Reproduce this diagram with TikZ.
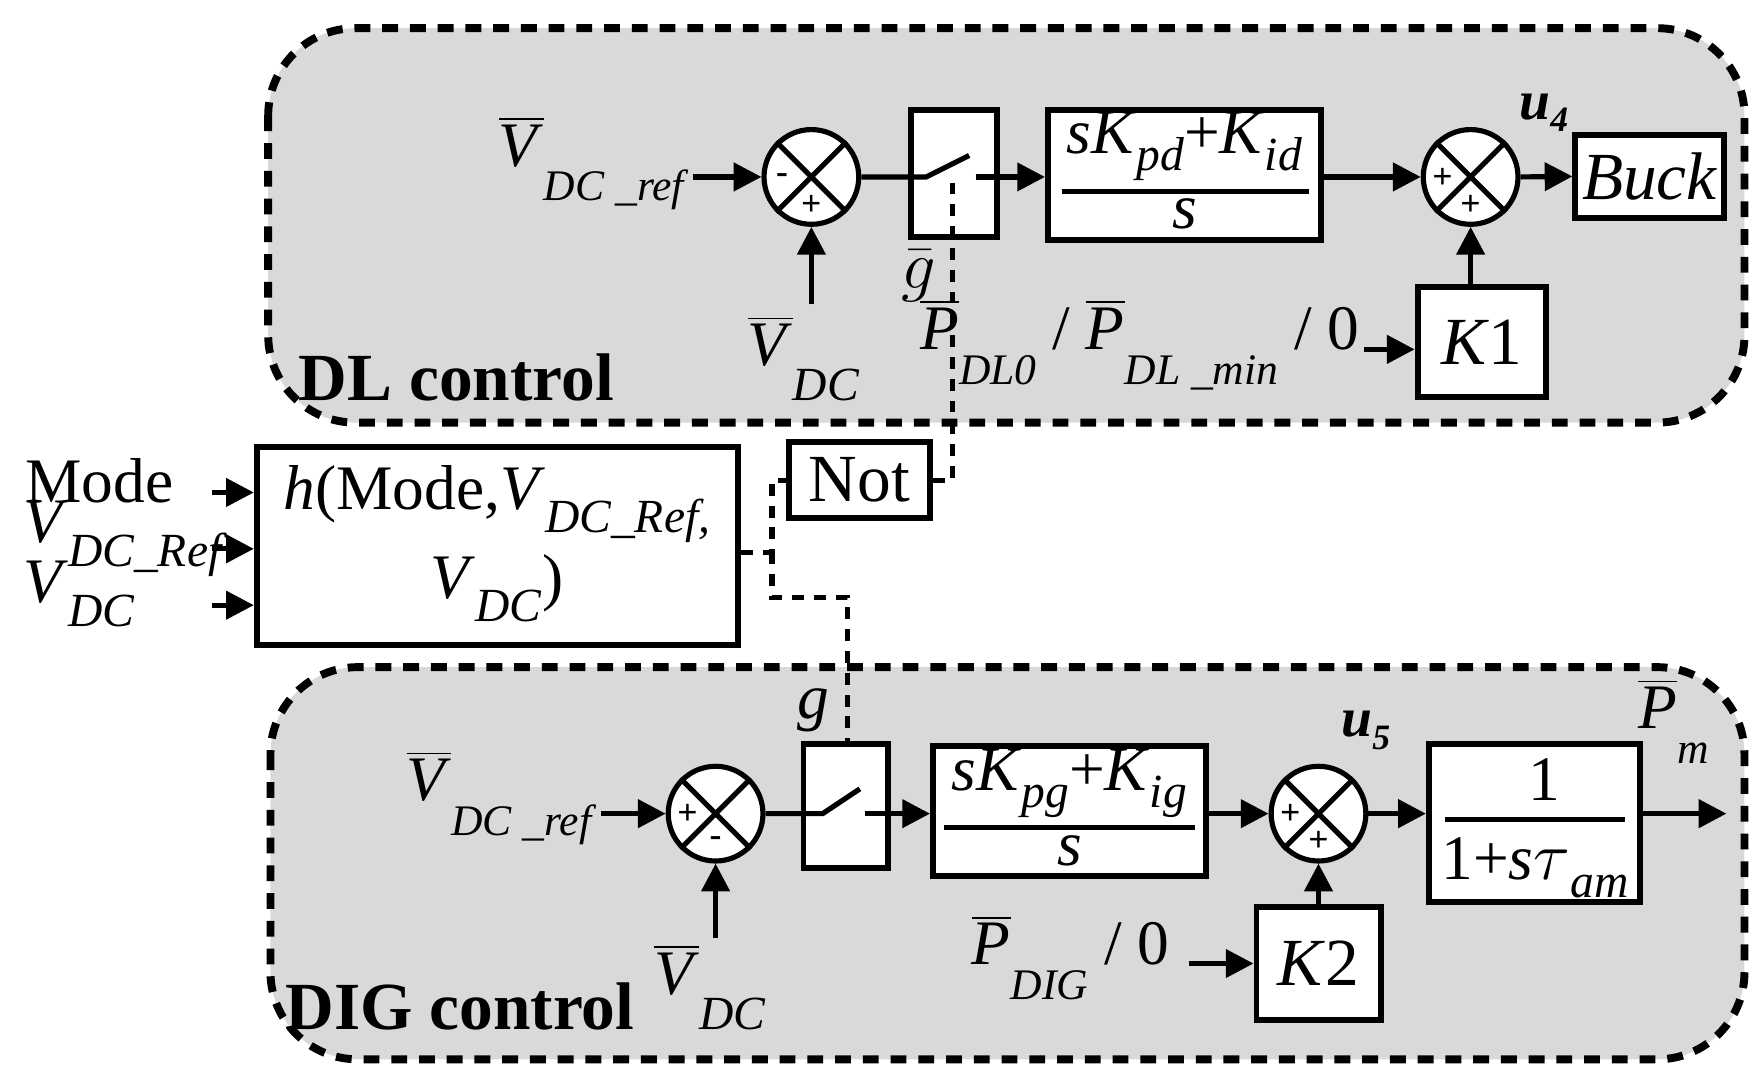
\documentclass[tikz,border=0pt]{standalone}
\usepackage{fontspec}
\setmainfont{Liberation Serif}
\usetikzlibrary{arrows.meta}
\newcommand{\ti}[1]{\textit{#1}}
\newcommand{\ol}[1]{$\overline{\mbox{#1}}$}
\begin{document}
\begin{tikzpicture}[x=0.01cm,y=-0.01cm,
  ln/.style={line width=1.3pt},
  ar/.style={ln,-{Triangle[length=7pt,width=7pt]}},
  grp/.style={draw,line width=2pt,dash pattern=on 4pt off 3pt,fill=gray!30,rounded corners=22pt},
  blk/.style={draw,line width=1.5pt,fill=white,inner sep=0pt},
  sumc/.style={draw,circle,line width=1.3pt,fill=white,minimum size=0.84cm,inner sep=0pt},
  dsh/.style={line width=1.3pt,dash pattern=on 3pt off 2.5pt},
  lb/.style={font=\fontsize{16}{16}\selectfont,inner sep=0pt},
  sg/.style={font=\bfseries\small,inner sep=0pt}]
\useasboundingbox (0,0) rectangle (1560,963);
% groups
\draw[grp] (238,25) rectangle (1548,375);
\draw[grp] (240,592) rectangle (1548,940);
\node[lb,font=\fontsize{17}{17}\selectfont\bfseries] (dlc) at (405,335) {DL control};
\node[lb,font=\fontsize{17}{17}\selectfont\bfseries] (digc) at (408,893) {DIG control};
% ---- DL ----
\node[sumc] (s1) at (720,157) {};
\draw[ln] (s1.north west)--(s1.south east) (s1.north east)--(s1.south west);
\node[sg] at (694,158) {-};
\node[sg] at (720,182) {+};
\node[lb] (vr1) at (527,145) {\ol{\ti{V}}\raisebox{-1.2ex}{\fontsize{11}{11}\selectfont\ti{DC \_ref}}};
\coordinate (vr1e) at (615,157);
\draw[ar] (vr1e) -- (s1.west);
\coordinate (vd1) at (720,270);
\draw[ar] (vd1) -- (s1.south);
\node[lb] (vdl1) at (713,318) {\ol{\ti{V}}\raisebox{-1.2ex}{\fontsize{12}{12}\selectfont\ti{DC}}};
\node[blk,minimum width=0.77cm,minimum height=1.12cm] (sw1) at (846.5,154) {};
\draw[ln] (s1.east) -- (822,157) -- (860,138);
\draw[ln] (866,157) -- (885,157);
\node[blk,minimum width=2.42cm,minimum height=1.15cm] (pi1) at (1051,155.5) {};
\draw[ar] (885,157) -- (pi1.west |- 0,157);
\node[lb] at (1051,130) {\ti{sK}\raisebox{-0.6ex}{\fontsize{12}{12}\selectfont\ti{pd}}+\ti{K}\raisebox{-0.6ex}{\fontsize{12}{12}\selectfont\ti{id}}};
\draw[ln] (942,170)--(1162,170);
\node[lb] at (1051,190) {\ti{s}};
\node[sumc] (s2) at (1305,157) {};
\draw[ln] (s2.north west)--(s2.south east) (s2.north east)--(s2.south west);
\node[sg] at (1280,158) {+};
\node[sg] at (1305,182) {+};
\draw[ar] (pi1.east |- 0,157) -- (s2.west);
\node[blk,minimum width=1.32cm,minimum height=0.73cm] (buck) at (1464,156.5) {\fontsize{17}{17}\selectfont\ti{Buck}};
\draw[ar] (s2.east) -- (buck.west);
\node[blk,minimum width=1.14cm,minimum height=0.97cm] (k1) at (1315,303.5) {\fontsize{17}{17}\selectfont\ti{K}1};
\draw[ar] (k1.north -| s2) -- (s2.south);
\node[lb,anchor=east] (pdl) at (1207,306) {\ol{\ti{P}}\raisebox{-1.2ex}{\fontsize{11}{11}\selectfont\ti{DL0}} / \ol{\ti{P}}\raisebox{-1.2ex}{\fontsize{11}{11}\selectfont\ti{DL \_min}} / 0};
\coordinate (pdle) at (1210,310);
\draw[ar] (pdle) -- (k1.west |- pdle);
\node[lb,font=\fontsize{14}{14}\selectfont\bfseries\itshape] at (1370,100) {u\raisebox{-0.5ex}{\small 4}};
\node[lb] at (815,245) {$\bar{g}$};
% ---- middle ----
\node[blk,minimum width=1.25cm,minimum height=0.68cm] (not) at (762.5,426) {\fontsize{17}{17}\selectfont Not};
\node[blk,minimum width=4.27cm,minimum height=1.75cm] (h) at (441.5,484.5) {};
\node[lb] at (441,447) {\ti{h}(Mode,\ti{V}\raisebox{-0.8ex}{\fontsize{12}{12}\selectfont\ti{DC\_Ref,}}};
\node[lb] at (441,522) {\ti{V}\raisebox{-0.8ex}{\fontsize{12}{12}\selectfont\ti{DC}})};
\node[lb,anchor=west] at (22,427) {Mode};
\node[lb,anchor=west] at (20,478) {\ti{V}\raisebox{-0.8ex}{\fontsize{12}{12}\selectfont\ti{DC\_Ref}}};
\node[lb,anchor=west] at (20,527) {\ti{V}\raisebox{-0.8ex}{\fontsize{12}{12}\selectfont\ti{DC}}};
\coordinate (i1) at (188,437); \coordinate (i2) at (188,487); \coordinate (i3) at (188,537);
\draw[ar] (i1) -- (h.west |- i1);
\draw[ar] (i2) -- (h.west |- i2);
\draw[ar] (i3) -- (h.west |- i3);
\draw[dsh] (not.east) -- (845,426) -- (845,160);
\draw[dsh] (h.east |- 0,490) -- (685,490) -- (685,426) -- (not.west);
\draw[dsh] (685,490) -- (685,530) -- (752,530) -- (752,705);
% ---- DIG ----
\node[sumc] (s3) at (635,722) {};
\draw[ln] (s3.north west)--(s3.south east) (s3.north east)--(s3.south west);
\node[sg] at (610,723) {+};
\node[sg] at (635,747) {-};
\node[lb] (vr2) at (445,708) {\ol{\ti{V}}\raisebox{-1.2ex}{\fontsize{11}{11}\selectfont\ti{DC \_ref}}};
\coordinate (vr2e) at (533,722);
\draw[ar] (vr2e) -- (s3.west);
\coordinate (vd2) at (635,832);
\draw[ar] (vd2) -- (s3.south);
\node[lb] at (630,876) {\ol{\ti{V}}\raisebox{-1.2ex}{\fontsize{12}{12}\selectfont\ti{DC}}};
\node[blk,minimum width=0.75cm,minimum height=1.10cm] (sw2) at (750.5,715) {};
\draw[ln] (s3.east) -- (730,722) -- (763,700);
\draw[ln] (768,722) -- (788,722);
\node[lb] at (722,630) {\ti{g}};
\node[blk,minimum width=2.42cm,minimum height=1.15cm] (pi2) at (949,719.5) {};
\draw[ar] (788,722) -- (pi2.west |- 0,722);
\node[lb] at (949,695) {\ti{sK}\raisebox{-0.6ex}{\fontsize{12}{12}\selectfont\ti{pg}}+\ti{K}\raisebox{-0.6ex}{\fontsize{12}{12}\selectfont\ti{ig}}};
\draw[ln] (838,734)--(1060,734);
\node[lb] at (949,755) {\ti{s}};
\node[sumc] (s4) at (1170,722) {};
\draw[ln] (s4.north west)--(s4.south east) (s4.north east)--(s4.south west);
\node[sg] at (1145,723) {+};
\node[sg] at (1170,747) {+};
\draw[ar] (pi2.east |- 0,722) -- (s4.west);
\node[lb,font=\fontsize{14}{14}\selectfont\bfseries\itshape] at (1212,648) {u\raisebox{-0.5ex}{\small 5}};
\node[blk,minimum width=1.87cm,minimum height=1.40cm] (tf) at (1361.5,730) {};
\node[lb] at (1370,692) {1};
\draw[ln] (1282,727)--(1442,727);
\node[lb] at (1362,770) {1+\ti{s}$\tau$\raisebox{-0.6ex}{\fontsize{12}{12}\selectfont\ti{am}}};
\draw[ar] (s4.east) -- (tf.west |- 0,722);
\coordinate (pm) at (1532,722);
\draw[ar] (tf.east |- 0,722) -- (pm);
\node[lb] at (1485,640) {\ol{\ti{P}}\raisebox{-1.2ex}{\fontsize{11}{11}\selectfont\ti{m}}};
\node[blk,minimum width=1.10cm,minimum height=1.00cm] (k2) at (1170,855) {\fontsize{17}{17}\selectfont\ti{K}2};
\draw[ar] (k2.north) -- (s4.south);
\node[lb] at (950,850) {\ol{\ti{P}}\raisebox{-1.2ex}{\fontsize{11}{11}\selectfont\ti{DIG}} / 0};
\coordinate (pdge) at (1055,855);
\draw[ar] (pdge) -- (k2.west);
\end{tikzpicture}
\end{document}
